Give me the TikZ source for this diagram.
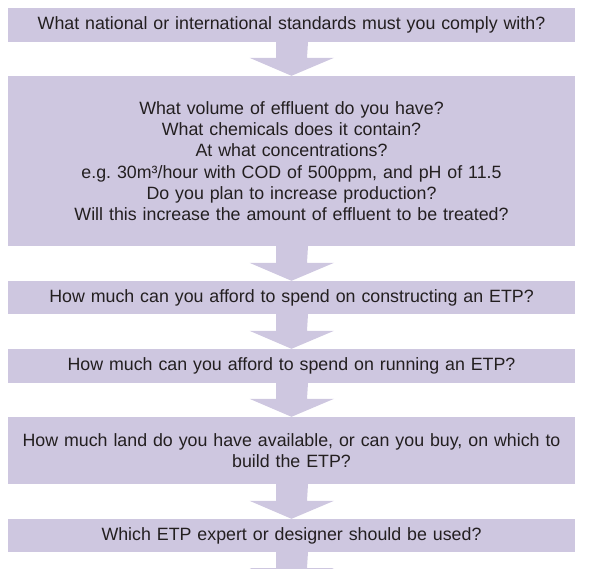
\documentclass[tikz,border=0pt]{standalone}
\usepackage{fontspec}
\setmainfont{Liberation Sans}
\usepackage{tikz}
\usetikzlibrary{calc}
\definecolor{lavbox}{RGB}{206,199,224}
\definecolor{inktext}{RGB}{35,31,32}
\tikzset{
  qbox/.style={fill=lavbox,draw=none,inner sep=0pt,minimum width=567pt,text width=565pt,align=center,
    text=inktext,font=\fontsize{17.8}{21.3}\selectfont\frenchspacing},
}
\newcommand{\flowarrow}[2]{%
  \fill[lavbox] ($(#1.south)+(-15.5,0)$) -- ($(#2.north)+(-15.5,18)$) -- ++(-26.5,0) -- (#2.north)
    -- ++(42.5,18) -- ++(-27,0) -- ($(#1.south)+(16.5,0)$) -- cycle;}

\begin{document}
\begin{tikzpicture}[x=1pt,y=1pt]
  \useasboundingbox (0,0) rectangle (591,-568);
  \clip (0,0) rectangle (591,-568);
  \node[qbox,minimum height=34pt] (std) at (291.5,-25) {What national or international standards must you comply with?};
  \node[qbox,minimum height=170pt] (vol) at (291.5,-161) {What volume of effluent do you have?\\What chemicals does it contain?\\At what concentrations?\\e.g. 30m³/hour with COD of 500ppm, and pH of 11.5\\Do you plan to increase production?\\Will this increase the amount of effluent to be treated?};
  \node[qbox,minimum height=33pt] (build) at (291.5,-297.5) {How much can you afford to spend on constructing an ETP?};
  \node[qbox,minimum height=34pt] (run) at (291.5,-366) {How much can you afford to spend on running an ETP?};
  \node[qbox,minimum height=67pt] (land) at (291.5,-450.5) {How much land do you have available, or can you buy, on which to\\build the ETP?};
  \node[qbox,minimum height=33pt] (expert) at (291.5,-535.5) {Which ETP expert or designer should be used?};
  \coordinate (next) at (291.5,-586);

  \flowarrow{std}{vol}
  \flowarrow{vol}{build}
  \flowarrow{build}{run}
  \flowarrow{run}{land}
  \flowarrow{land}{expert}
  \flowarrow{expert}{next}
\end{tikzpicture}
\end{document}
